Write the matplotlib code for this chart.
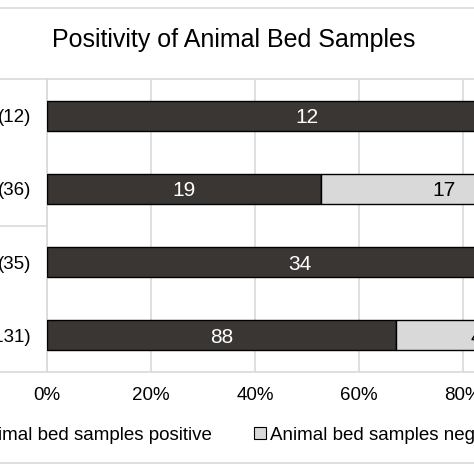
import numpy as np
import matplotlib.pyplot as plt
from matplotlib.lines import Line2D
from matplotlib.patches import Patch

plt.rcParams['font.family'] = ['Liberation Sans', 'DejaVu Sans']

# data
groups = ["(12)", "(36)", "(35)", "(131)"]
positive = np.array([12, 19, 34, 88])
negative = np.array([0, 17, 1, 43])
xticks = [0, 20, 40, 60, 80, 100]

total = positive + negative
pos_pct = positive / total * 100
neg_pct = negative / total * 100

dark = "#3a3634"
light = "#d9d9d9"
grid_c = "#d9d9d9"

W = 474
fig = plt.figure(figsize=(4.74, 4.74), dpi=100)
# plot area runs off the right edge of the picture (cropped original)
ax = fig.add_axes([47 / W, 102 / W, 520 / W, 293 / W])

y = np.arange(len(groups))
h = 0.41
ax.barh(y, pos_pct, height=h, color=dark, edgecolor="black", linewidth=1, zorder=3)
ax.barh(y, neg_pct, left=pos_pct, height=h, color=light, edgecolor="black", linewidth=1, zorder=3)

for i in range(len(groups)):
    if positive[i] > 0:
        ax.text(pos_pct[i] / 2, y[i], str(positive[i]), ha="center", va="center_baseline",
                color="white", fontsize=15, zorder=4)
    if negative[i] > 0:
        ax.text(pos_pct[i] + neg_pct[i] / 2, y[i], str(negative[i]), ha="center",
                va="center_baseline", color="black", fontsize=15, zorder=4)

ax.set_xlim(0, 100)
ax.set_ylim(3.5, -0.5)
ax.set_xticks(xticks)
ax.set_xticklabels([f"{t}%" for t in xticks], fontsize=13.5)
ax.set_yticks(y)
ax.set_yticklabels(groups, fontsize=13.5)
ax.tick_params(axis="x", length=0, pad=11)
ax.tick_params(axis="y", length=0, pad=11)
ax.xaxis.grid(True, color=grid_c, linewidth=1.2, zorder=0)
ax.set_axisbelow(True)
for side in ["left", "top", "bottom"]:
    ax.spines[side].set_color(grid_c)
    ax.spines[side].set_linewidth(1.2)
ax.spines["right"].set_visible(False)

# category group separators to the left of the axis
yt = ax.get_yaxis_transform()
for yy in [-0.5, 1.5, 3.5]:
    ax.plot([-1, 0], [yy, yy], color=grid_c, linewidth=1.2, transform=yt, clip_on=False)

fig.text(234 / W, 1 - 40 / W, "Positivity of Animal Bed Samples", ha="center", va="center", fontsize=18)

handles = [Patch(facecolor=dark, edgecolor="black", linewidth=0.8),
           Patch(facecolor=light, edgecolor="black", linewidth=0.8)]
fig.legend(handles, ["Animal bed samples positive", "Animal bed samples negative"],
           loc="center left", bbox_to_anchor=(-40 / W, 1 - 435 / W), ncol=2, frameon=False,
           fontsize=13.5, handlelength=0.6, handleheight=0.6, handletextpad=0.22,
           columnspacing=2.24, borderpad=0, borderaxespad=0)

# chart border lines
for yp in [8, 463]:
    fig.add_artist(Line2D([0, 1], [1 - yp / W, 1 - yp / W], color=grid_c, linewidth=1.2,
                          transform=fig.transFigure))

fig.savefig("out.png", dpi=100)
